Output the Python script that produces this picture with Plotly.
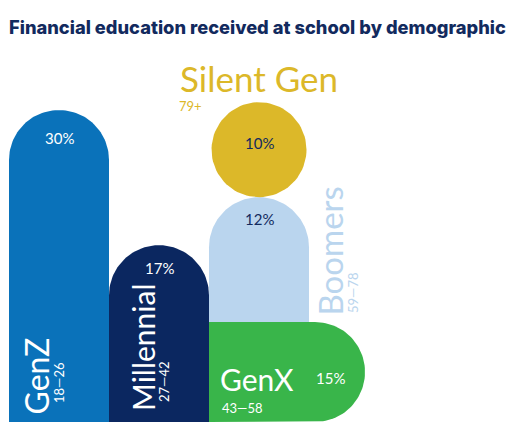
import numpy as np
import plotly.graph_objects as go

# ---- data ----
generations = ["GenZ", "Millennial", "GenX", "Boomers", "Silent Gen"]
age_ranges = ["18—26", "27—42", "43—58", "59—78", "79+"]
values = [30, 17, 15, 12, 10]
value_labels = ["30%", "17%", "15%", "12%", "10%"]
colors = ["#0a72ba", "#0b2760", "#39b54a", "#bad5ee", "#dcb829"]

# ---- layout constants ----
FIG_W, FIG_H = 513, 417   # page body has an 8px margin
K = 10.4            # px per percentage point
W = 100 / K         # bar thickness in data units
X0_PX, BASE_PX = 1, 414
NAVY = "#122a5e"
LABEL_FONT = "Lato"


def rounded_bar(x0, y0, length, width, vertical=True, n=60):
    r = width / 2
    if vertical:
        yc = y0 + length - r
        t = np.linspace(0, np.pi, n)
        xs = [x0, x0 + width] + list(x0 + r + r * np.cos(t)) + [x0, x0]
        ys = [y0, y0] + list(yc + r * np.sin(t)) + [yc, y0]
    else:
        xc = x0 + length - r
        t = np.linspace(-np.pi / 2, np.pi / 2, n)
        xs = [x0, xc] + list(xc + r * np.cos(t)) + [x0, x0]
        ys = [y0, y0] + list(y0 + r + r * np.sin(t)) + [y0 + width, y0]
    return xs, ys


def circle(xc, yc, r, n=90):
    t = np.linspace(0, 2 * np.pi, n)
    return list(xc + r * np.cos(t)), list(yc + r * np.sin(t))


vals = dict(zip(generations, values))
col = dict(zip(generations, colors))
ages = dict(zip(generations, age_ranges))
vlab = dict(zip(generations, value_labels))

fig = go.Figure()

def add_poly(xs, ys, color):
    fig.add_trace(go.Scatter(x=xs, y=ys, mode="lines", fill="toself",
                             fillcolor=color, line=dict(width=0, color=color),
                             hoverinfo="skip", showlegend=False))

# geometry derived from values
genz = (0, 0, vals["GenZ"])
mill = (W, 0, vals["Millennial"])
genx_x0 = 2 * W
boom = (2 * W, W, vals["Boomers"])
silent_r = W / 2 * 0.95
silent_c = (2.5 * W, W + vals["Boomers"] + silent_r)

add_poly(*rounded_bar(genz[0], genz[1], genz[2], W), col["GenZ"])
add_poly(*rounded_bar(mill[0], mill[1], mill[2], W), col["Millennial"])
add_poly(*rounded_bar(boom[0], boom[1], boom[2], W), col["Boomers"])
add_poly(*rounded_bar(genx_x0, 0, vals["GenX"], W, vertical=False), col["GenX"])
add_poly(*circle(silent_c[0], silent_c[1], silent_r), col["Silent Gen"])

ann = []
def A(text, x, y, size, color, xanchor="center", yanchor="middle", angle=0,
      xshift=0, yshift=0, family=LABEL_FONT):
    ann.append(dict(text=text, x=x, y=y, xref="x", yref="y", showarrow=False,
                    font=dict(size=size, color=color, family=family),
                    xanchor=xanchor, yanchor=yanchor, textangle=angle,
                    xshift=xshift, yshift=yshift, borderpad=0))

# value labels
A(vlab["GenZ"], W / 2, vals["GenZ"], 15, "white", yshift=-28)
A(vlab["Millennial"], 1.5 * W, vals["Millennial"], 15, "white", yshift=-23)
A(vlab["Boomers"], 2.5 * W, W + vals["Boomers"], 15, NAVY, yshift=-22)
A(vlab["Silent Gen"], silent_c[0], silent_c[1], 15, NAVY, yshift=7)
A(vlab["GenX"], genx_x0 + vals["GenX"], W / 2, 15, "white", xanchor="center", xshift=-35, yshift=-6)

# generation names
A(generations[0], W / 2, 0, 32, "white", yanchor="bottom", angle=-90, xshift=-23, yshift=6)
A(ages["GenZ"], W / 2, 0, 13, "white", yanchor="bottom", angle=-90, xshift=0, yshift=18)
A(generations[1], 1.5 * W, 0, 30, "white", yanchor="bottom", angle=-90, xshift=-16, yshift=10)
A(ages["Millennial"], 1.5 * W, 0, 13, "white", yanchor="bottom", angle=-90, xshift=5, yshift=19)
A(generations[2], genx_x0, W / 2, 30, "white", xanchor="left", yshift=-7, xshift=10)
A(ages["GenX"], genx_x0, W / 2, 13, "white", xanchor="left", yshift=-36, xshift=12)
A(generations[3], 3 * W, W, 33, col["Boomers"], xanchor="center", yanchor="bottom", angle=-90, xshift=20, yshift=5)
A(ages["Boomers"], 3 * W, W, 13, col["Boomers"], xanchor="center", yanchor="bottom", angle=-90, xshift=44, yshift=8)
A(generations[4], 2 * W, silent_c[1] + silent_r, 35, col["Silent Gen"], xanchor="left", yanchor="middle", xshift=-30, yshift=24)
A(ages["Silent Gen"], 2 * W, silent_c[1] + silent_r, 13, col["Silent Gen"], xanchor="left", yanchor="middle", xshift=-31, yshift=-4)

fig.update_layout(
    width=FIG_W, height=FIG_H,
    margin=dict(l=0, r=0, t=0, b=0),
    paper_bgcolor="white", plot_bgcolor="white",
    xaxis=dict(range=[-X0_PX / K, (FIG_W - X0_PX) / K], visible=False, fixedrange=True),
    yaxis=dict(range=[-(FIG_H - BASE_PX) / K, BASE_PX / K], visible=False, fixedrange=True),
    title=dict(text="Financial education received at school by demographic",
               x=1 / FIG_W, xanchor="left", xref="paper",
               y=1 - 20 / FIG_H, yanchor="middle", yref="container",
               font=dict(family="Inter", size=18.3, color=NAVY, weight=800)),
    annotations=ann,
)

fig.write_html("out.html")
